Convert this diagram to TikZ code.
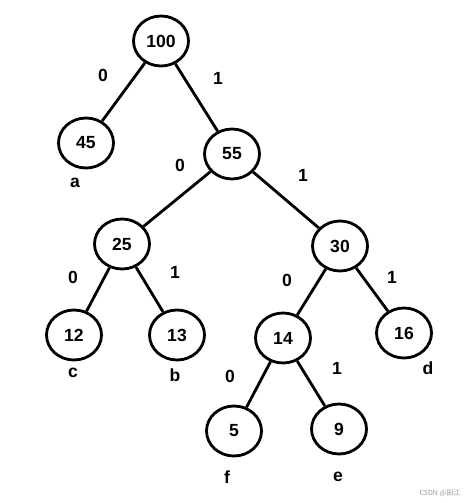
\documentclass[tikz,border=0pt]{standalone}
\usepackage{fontspec}
\setmainfont{Liberation Sans}
\newfontfamily\cjk{Noto Sans CJK SC}
\usetikzlibrary{shapes.geometric}

\begin{document}
\begin{tikzpicture}[x=0.02cm,y=-0.02cm,
  line/.style={draw=black,line width=1.6pt},
  hnode/.style={ellipse,draw=black,line width=1.6pt,minimum width=1.1cm,minimum height=1.0cm,inner sep=0pt,font=\bfseries\fontsize{10}{12}\selectfont},
  bit/.style={font=\bfseries\fontsize{10}{12}\selectfont},
  sym/.style={font=\bfseries\fontsize{10}{12}\selectfont},
  wmark/.style={font=\cjk\fontsize{4}{5}\selectfont,text=black!40},
]

\useasboundingbox (0,0) rectangle (474,503);

% weights
\node[hnode] (n100) at (161,41) {100};
\node[hnode] (n45) at (86,143) {45};
\node[hnode] (n55) at (232,154) {55};
\node[hnode] (n25) at (122,244) {25};
\node[hnode] (n30) at (340,246) {30};
\node[hnode] (n12) at (74,335) {12};
\node[hnode] (n13) at (177,335) {13};
\node[hnode] (n14) at (283,338) {14};
\node[hnode] (n16) at (404,333) {16};
\node[hnode] (n5) at (234,431) {5};
\node[hnode] (n9) at (339,429) {9};

% branches
\draw[line] (n100) -- (n45);
\draw[line] (n100) -- (n55);
\draw[line] (n55) -- (n25);
\draw[line] (n55) -- (n30);
\draw[line] (n25) -- (n12);
\draw[line] (n25) -- (n13);
\draw[line] (n30) -- (n14);
\draw[line] (n30) -- (n16);
\draw[line] (n14) -- (n5);
\draw[line] (n14) -- (n9);

% codes
\node[bit] (b1) at (103,75) {0};
\node[bit] (b2) at (218,78) {1};
\node[bit] (b3) at (180,165) {0};
\node[bit] (b4) at (303,175) {1};
\node[bit] (b5) at (73,277) {0};
\node[bit] (b6) at (175,272) {1};
\node[bit] (b7) at (287,280) {0};
\node[bit] (b8) at (392,277) {1};
\node[bit] (b9) at (230,376) {0};
\node[bit] (b10) at (337,368) {1};

% characters
\node[sym] (la) at (75,183) {a};
\node[sym] (lc) at (73,373) {c};
\node[sym] (lb) at (175,375) {b};
\node[sym] (ld) at (428,368) {d};
\node[sym] (lf) at (227,477) {f};
\node[sym] (le) at (338,477) {e};

\node[wmark] (wm) at (440,493) {CSDN @田江};

\end{tikzpicture}
\end{document}
